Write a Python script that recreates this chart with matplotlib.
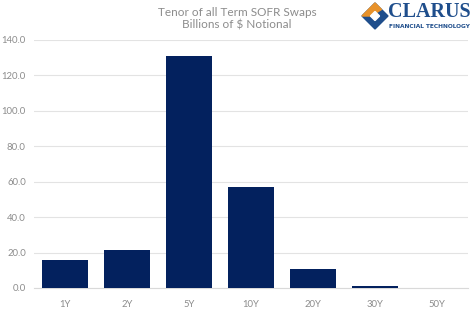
import matplotlib.pyplot as plt
from matplotlib.patches import Polygon

tenors = ['1Y', '2Y', '5Y', '10Y', '20Y', '30Y', '50Y']
notional = [15.8, 21.5, 131.0, 57.0, 10.5, 1.2, 0.1]
y_ticks = [0, 20, 40, 60, 80, 100, 120, 140]

bar_color = '#03215e'
text_gray = '#8c8c8c'

fig = plt.figure(figsize=(4.74, 3.09), dpi=100)
ax = fig.add_axes([0.072, 0.068, 0.915, 0.8026])

ax.bar(range(len(tenors)), notional, width=0.74, color=bar_color, zorder=3)
ax.set_xlim(-0.5, len(tenors) - 0.5)
ax.set_ylim(0, 140)
ax.set_xticks(range(len(tenors)))
ax.set_xticklabels(tenors)
ax.set_yticks(y_ticks)
ax.set_yticklabels([f'{v:.1f}' for v in y_ticks])
ax.tick_params(axis='both', length=0, labelsize=6.8, colors=text_gray, pad=9)
ax.tick_params(axis='y', pad=6)
for lbl in ax.get_xticklabels() + ax.get_yticklabels():
    lbl.set_fontfamily('Lato')

ax.grid(axis='y', color='#e3e3e3', linewidth=0.8, zorder=0)
for s in ['top', 'right', 'left']:
    ax.spines[s].set_visible(False)
ax.spines['bottom'].set_color('#d9d9d9')
ax.spines['bottom'].set_linewidth(0.8)

fig.text(0.5, 0.96, 'Tenor of all Term SOFR Swaps', ha='center', va='center',
         fontsize=8.5, color=text_gray, fontfamily='Lato')
fig.text(0.5, 0.918, 'Billions of $ Notional', ha='center', va='center',
         fontsize=8.5, color=text_gray, fontfamily='Lato')

# logo
cx, cy = 375 / 474, 1 - 16 / 309
dx, dy = 13 / 474, 13 / 309
fig.patches.append(Polygon([(cx - dx, cy), (cx, cy + dy), (cx + dx, cy), (cx, cy - dy)],
                           closed=True, transform=fig.transFigure, color='#1f4e8c'))
fig.patches.append(Polygon([(cx - dx, cy), (cx, cy + dy), (cx + 0.5 * dx, cy + 0.5 * dy),
                            (cx - 0.3 * dx, cy)],
                           closed=True, transform=fig.transFigure, color='#e8922a'))
fig.patches.append(Polygon([(cx - 0.35 * dx, cy), (cx, cy + 0.35 * dy), (cx + 0.35 * dx, cy),
                            (cx, cy - 0.35 * dy)],
                           closed=True, transform=fig.transFigure, color='white'))
fig.text(429 / 474, 1 - 12 / 309, 'CLARUS', ha='center', va='center', fontsize=14.5,
         color='#1f4e8c', fontfamily='Liberation Serif', fontweight='bold')
fig.text(429 / 474, 1 - 26 / 309, 'FINANCIAL TECHNOLOGY', ha='center', va='center',
         fontsize=4.2, color='#1f4e8c', fontweight='bold', fontfamily='DejaVu Sans')

fig.savefig('out.png', dpi=100, facecolor='white')
